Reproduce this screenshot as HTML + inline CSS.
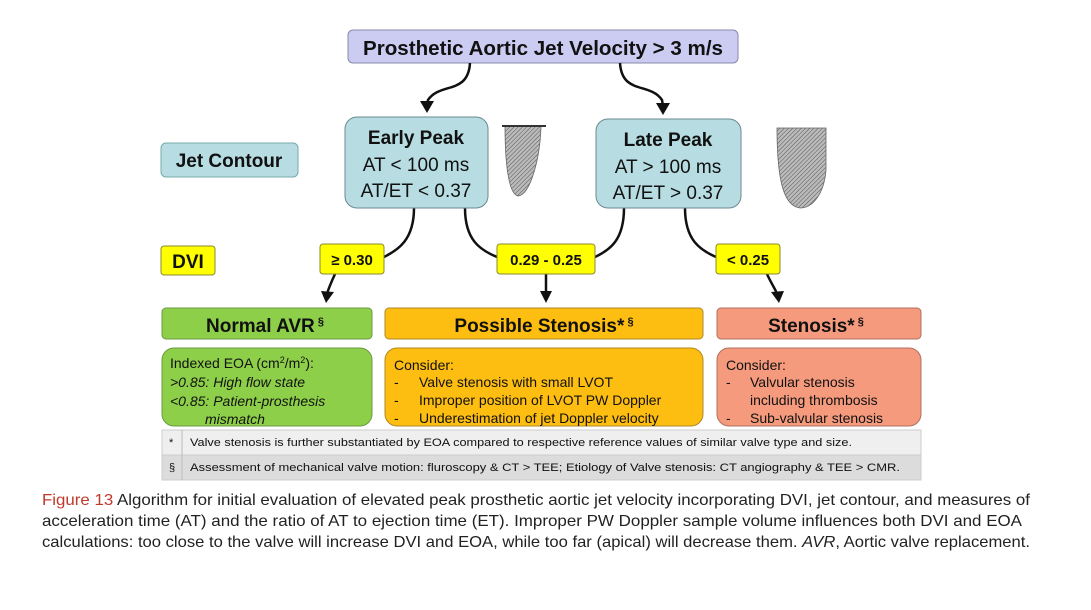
<!DOCTYPE html>
<html><head><meta charset="utf-8"><style>
html,body{margin:0;padding:0;background:#fff;}
svg{display:block;font-family:"Liberation Sans",Arial,sans-serif;}
</style></head><body>
<svg width="1091" height="610" viewBox="0 0 1091 610" xmlns="http://www.w3.org/2000/svg">
<defs>
<pattern id="h" width="3" height="3" patternUnits="userSpaceOnUse" patternTransform="rotate(45)">
<rect width="3" height="3" fill="#bbb"/><line x1="0" y1="0" x2="0" y2="3" stroke="#555" stroke-width="1"/></pattern>
</defs>
<!-- top -->
<rect x="348" y="30" width="390" height="33" rx="5" fill="#ccccf2" stroke="#8888aa"/>
<text x="543" y="55" font-size="20" font-weight="bold" text-anchor="middle" fill="#111" textLength="360" lengthAdjust="spacingAndGlyphs">Prosthetic Aortic Jet Velocity &gt; 3 m/s</text>
<!-- connectors -->
<g fill="none" stroke="#111" stroke-width="2.5">
<path d="M470,63 C468,95 440,82 428,100 L427,104"/>
<path d="M620,63 C622,95 650,82 662,100 L663,106"/>
<path d="M414,208 C414,240 398,250 384,257"/>
<path d="M465,208 C465,240 480,250 497,257"/>
<path d="M624,208 C624,240 610,250 595,257"/>
<path d="M685,208 C685,240 700,250 716,257"/>
<path d="M335,274 C330,285 328,290 327,294"/>
<path d="M546,274 L546,294"/>
<path d="M767,274 C772,285 776,290 777,294"/>
</g>
<g fill="#111">
<path d="M420,101 L434,101 L427,113 Z"/>
<path d="M656,103 L670,103 L663,115 Z"/>
<path d="M321,291 L334,292 L326,303 Z"/>
<path d="M540,291 L552,291 L546,303 Z"/>
<path d="M771,292 L784,291 L779,303 Z"/>
</g>
<!-- jet contour -->
<rect x="161" y="143" width="137" height="34" rx="5" fill="#b7dde3" stroke="#7aa"/>
<text x="229" y="167" font-size="19" font-weight="bold" text-anchor="middle" fill="#111">Jet Contour</text>
<rect x="345" y="117" width="143" height="91" rx="12" fill="#b7dde3" stroke="#6a8a90"/>
<text x="416" y="144" font-size="19" font-weight="bold" text-anchor="middle" fill="#111">Early Peak</text>
<text x="416" y="171" font-size="19" text-anchor="middle" fill="#111">AT &lt; 100 ms</text>
<text x="416" y="197" font-size="19" text-anchor="middle" fill="#111">AT/ET &lt; 0.37</text>
<rect x="596" y="119" width="145" height="89" rx="12" fill="#b7dde3" stroke="#6a8a90"/>
<text x="668" y="146" font-size="19" font-weight="bold" text-anchor="middle" fill="#111">Late Peak</text>
<text x="668" y="173" font-size="19" text-anchor="middle" fill="#111">AT &gt; 100 ms</text>
<text x="668" y="199" font-size="19" text-anchor="middle" fill="#111">AT/ET &gt; 0.37</text>
<path d="M505,126 L541,126 C540,160 530,195 518,196 C508,194 505,160 505,126 Z" fill="url(#h)" stroke="#666" stroke-width="0.8"/>
<line x1="502" y1="126" x2="546" y2="126" stroke="#333" stroke-width="2"/>
<path d="M777,128 L826,128 L826,170 C824,195 812,208 800,208 C785,206 777,185 777,128 Z" fill="url(#h)" stroke="#666" stroke-width="0.8"/>
<!-- DVI -->
<g stroke="#8a8a30" fill="#ffff00">
<rect x="161" y="246" width="54" height="29" rx="3"/>
<rect x="320" y="244" width="64" height="30" rx="3"/>
<rect x="497" y="244" width="98" height="30" rx="3"/>
<rect x="716" y="244" width="64" height="30" rx="3"/>
</g>
<g font-weight="bold" fill="#111" text-anchor="middle">
<text x="188" y="268" font-size="19">DVI</text>
<text x="352" y="265" font-size="15">≥ 0.30</text>
<text x="546" y="265" font-size="15">0.29 - 0.25</text>
<text x="748" y="265" font-size="15">&lt; 0.25</text>
</g>
<!-- results -->
<rect x="162" y="308" width="210" height="31" rx="4" fill="#8ecf4a" stroke="#6a9a40"/>
<rect x="385" y="308" width="318" height="31" rx="4" fill="#fdbd11" stroke="#b08a20"/>
<rect x="717" y="308" width="204" height="31" rx="4" fill="#f59a7d" stroke="#b07060"/>
<g font-weight="bold" font-size="19" fill="#111" text-anchor="middle">
<text x="265" y="332">Normal AVR<tspan font-size="11" dy="-7"> §</tspan></text>
<text x="544" y="332">Possible Stenosis*<tspan font-size="11" dy="-7"> §</tspan></text>
<text x="816" y="332">Stenosis*<tspan font-size="11" dy="-7"> §</tspan></text>
</g>
<rect x="162" y="348" width="210" height="78" rx="12" fill="#8ecf4a" stroke="#6a9a40"/>
<rect x="385" y="348" width="318" height="78" rx="12" fill="#fdbd11" stroke="#b08a20"/>
<rect x="717" y="348" width="204" height="78" rx="12" fill="#f59a7d" stroke="#b07060"/>
<g font-size="14" fill="#111">
<text x="170" y="368">Indexed EOA (cm<tspan font-size="9" dy="-5">2</tspan><tspan dy="5">/m</tspan><tspan font-size="9" dy="-5">2</tspan><tspan dy="5">):</tspan></text>
<text x="170" y="387" font-style="italic">&gt;0.85: High flow state</text>
<text x="170" y="406" font-style="italic">&lt;0.85: Patient-prosthesis</text>
<text x="205" y="424" font-style="italic">mismatch</text>
<text x="394" y="370">Consider:</text>
<text x="394" y="387">-</text><text x="419" y="387">Valve stenosis with small LVOT</text>
<text x="394" y="405">-</text><text x="419" y="405">Improper position of LVOT PW Doppler</text>
<text x="394" y="423">-</text><text x="419" y="423">Underestimation of jet Doppler velocity</text>
<text x="726" y="370">Consider:</text>
<text x="726" y="387">-</text><text x="750" y="387">Valvular stenosis</text>
<text x="750" y="405">including thrombosis</text>
<text x="726" y="423">-</text><text x="750" y="423">Sub-valvular stenosis</text>
</g>
<!-- table -->
<rect x="162" y="430" width="759" height="25" fill="#efefef" stroke="#ccc"/>
<rect x="162" y="455" width="759" height="25" fill="#dcdcdc" stroke="#ccc"/>
<line x1="182" y1="430" x2="182" y2="480" stroke="#bbb"/>
<g font-size="11" fill="#111">
<text x="169" y="446">*</text>
<text x="190" y="446" textLength="662" lengthAdjust="spacingAndGlyphs">Valve stenosis is further substantiated  by EOA compared to respective reference values of similar valve type and size.</text>
<text x="169" y="471">§</text>
<text x="190" y="471" textLength="710" lengthAdjust="spacingAndGlyphs">Assessment of mechanical valve motion: fluroscopy &amp; CT &gt; TEE; Etiology of Valve stenosis:  CT angiography &amp; TEE &gt; CMR.</text>
</g>
<!-- caption -->
<g font-size="16" fill="#222">
<text x="42" y="505" textLength="988" lengthAdjust="spacingAndGlyphs"><tspan fill="#c0392b">Figure 13</tspan>  Algorithm for initial evaluation of elevated peak prosthetic aortic jet velocity incorporating DVI, jet contour, and measures of</text>
<text x="42" y="526" textLength="980" lengthAdjust="spacingAndGlyphs">acceleration time (AT) and the ratio of AT to ejection time (ET). Improper PW Doppler sample volume influences both DVI and EOA</text>
<text x="42" y="547" textLength="988" lengthAdjust="spacingAndGlyphs">calculations: too close to the valve will increase DVI and EOA, while too far (apical) will decrease them. <tspan font-style="italic">AVR</tspan>, Aortic valve replacement.</text>
</g>
</svg>
</body></html>
